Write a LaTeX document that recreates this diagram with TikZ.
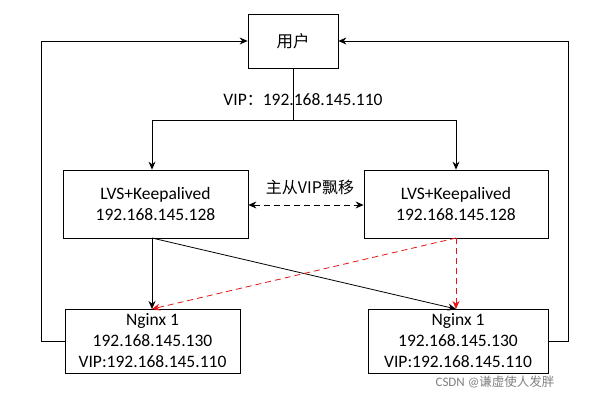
\documentclass[tikz,border=0pt]{standalone}
\usepackage{fontspec}
\setmainfont{Carlito}
\newfontfamily\cjk{Noto Sans CJK SC}
\usetikzlibrary{arrows.meta}
\begin{document}
\begin{tikzpicture}[x=1pt,y=-1pt,font=\fontsize{17.5}{21}\selectfont,
  box/.style={draw,thick,align=center,inner sep=0pt},
  arr/.style={-{Stealth[length=8pt,width=7pt]},thick},
  red/.style={arr,draw={rgb,255:red,230;green,20;blue,20},dash pattern=on 6pt off 4pt}]
\useasboundingbox (0,0) rectangle (608,401);
\node[box,minimum width=90,minimum height=54] (u) at (293,41) {\cjk\fontsize{16.5}{18}\selectfont 用户};
\node[box,minimum width=185,minimum height=68] (l1) at (155.5,204) {LVS+Keepalived\\192.168.145.128};
\node[box,minimum width=184,minimum height=68] (l2) at (456,204) {LVS+Keepalived\\192.168.145.128};
\node[box,minimum width=175,minimum height=64] (n1) at (152.5,341) {Nginx 1\\192.168.145.130\\VIP:192.168.145.110};
\node[box,minimum width=180,minimum height=64] (n2) at (458,341) {Nginx 1\\192.168.145.130\\VIP:192.168.145.110};
\node (vip) at (303,100) {VIP{\cjk\fontsize{16}{18}\selectfont ：}192.168.145.110};
\coordinate (j) at (293,120);
\draw[thick] (u.south) -- (j);
\draw[arr] (j) -| (l1.north -| 152,0);
\draw[arr] (j) -| (l2.north);
\draw[arr] (n1.west) -- (41,341) -- (41,41) -- (u.west);
\draw[arr] (n2.east) -- (568,341) -- (568,41) -- (u.east);
\draw[arr,{Stealth[length=8pt,width=7pt]}-{Stealth[length=8pt,width=7pt]},dash pattern=on 6pt off 4pt] (l1.east |- 0,205) -- (l2.west |- 0,205);
\node (lab) at (310,187) {\cjk\fontsize{16}{18}\selectfont 主从VIP飘移};
\draw[arr] (152,238) -- (152,309);
\draw[arr] (152,238) -- (456,309);
\draw[red] (456,238) -- (152,309);
\draw[red] (456,238) -- (456,309);
\node[text=gray,font=\fontsize{13}{15}\selectfont] (wm) at (495,382) {CSDN @{\cjk\fontsize{12.5}{15}\selectfont 谦虚使人发胖}};
\end{tikzpicture}
\end{document}
